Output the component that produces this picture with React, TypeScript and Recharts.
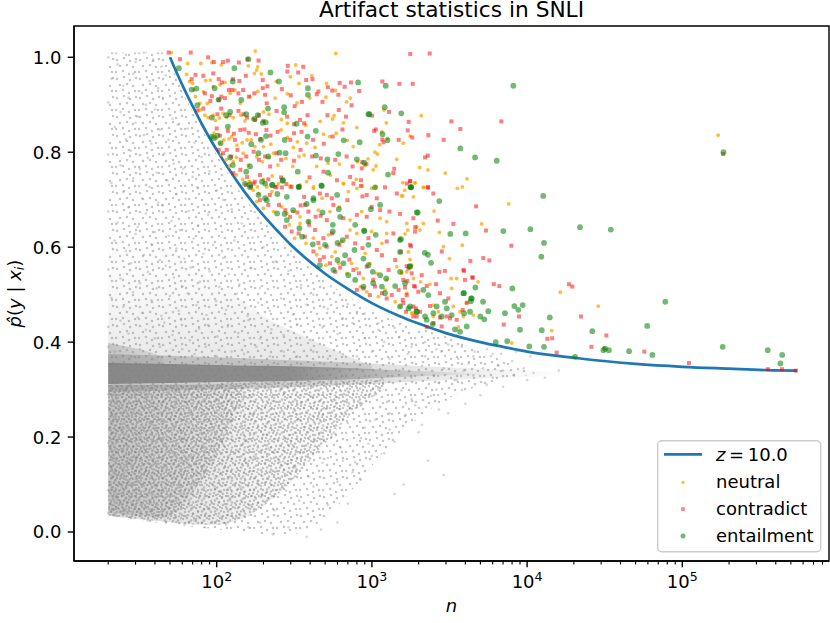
import React from 'react';
import { ComposedChart, XAxis, YAxis, Scatter, Line, Area, ReferenceArea } from 'recharts';

type Pt = [number, number];

const FONT = '"DejaVu Sans", Verdana, sans-serif';
const W = 830;
const H = 623;

const titleText = 'Artifact statistics in SNLI';
const legendLabels = ['neutral', 'contradict', 'entailment'];
const lineLabel = '10.0';

const xMajorTicks = [100, 1000, 10000, 100000];
const xMinorTicks = [
  20, 30, 40, 50, 60, 70, 80, 90,
  200, 300, 400, 500, 600, 700, 800, 900,
  2000, 3000, 4000, 5000, 6000, 7000, 8000, 9000,
  20000, 30000, 40000, 50000, 60000, 70000, 80000, 90000,
  200000, 300000, 400000, 500000, 600000, 700000, 800000,
];
const yTicks = [0, 0.2, 0.4, 0.6, 0.8, 1.0];
const xDomain = [12.04, 881000];
const yDomain = [-0.0611, 1.0659];

// z = 10.0 curve
const curveN = [50, 55, 60, 70, 80, 90, 100, 120, 150, 200, 250, 300, 400, 500, 700, 1000, 1500, 2000, 3000, 5000, 7000, 10000, 20000, 50000, 100000, 200000, 350000, 550000];
const curveP = [1.0, 0.969, 0.942, 0.897, 0.86, 0.83, 0.805, 0.764, 0.718, 0.667, 0.632, 0.605, 0.569, 0.544, 0.512, 0.482, 0.455, 0.439, 0.419, 0.4, 0.39, 0.38, 0.367, 0.354, 0.348, 0.344, 0.341, 0.34];

// envelopes of the grey cloud (n, low, high)
const cloudN = [20, 30, 45, 50, 60, 80, 100, 150, 200, 300, 500, 800, 1200, 2000, 3500, 6000, 10000];
const cloudLo = [0.03, 0.025, 0.018, 0.016, 0.013, 0.009, 0.006, 0.0, -0.004, -0.005, 0.03, 0.1, 0.17, 0.24, 0.29, 0.315, 0.33];
const cloudHi = [1.01, 1.01, 1.01, 0.99, 0.93, 0.85, 0.795, 0.705, 0.655, 0.595, 0.53, 0.485, 0.455, 0.43, 0.405, 0.37, 0.34];

const lowN = [20, 30, 45, 70, 100, 150, 250, 400, 700, 1200];
const lowLo = [0.035, 0.028, 0.022, 0.016, 0.015, 0.03, 0.08, 0.15, 0.24, 0.3];
const lowHi = [0.31, 0.31, 0.31, 0.31, 0.312, 0.314, 0.316, 0.318, 0.32, 0.322];

const denseN = [20, 30, 45, 60, 80, 110, 150];
const denseLo = [0.04, 0.035, 0.03, 0.055, 0.11, 0.19, 0.29];
const denseHi = [0.31, 0.31, 0.31, 0.31, 0.31, 0.31, 0.31];

const aboveN = [20, 30, 50, 80, 130, 200, 350, 600, 1000];
const aboveLo = [0.35, 0.35, 0.35, 0.35, 0.348, 0.346, 0.344, 0.342, 0.34];
const aboveHi = [0.66, 0.64, 0.6, 0.55, 0.5, 0.455, 0.415, 0.38, 0.35];

const colN = [20, 25, 32, 45];
const colLo = [0.352, 0.352, 0.352, 0.352];
const colHi = [0.398, 0.392, 0.385, 0.37];

const outerN = [20, 100, 300, 1000, 3000, 10000, 20000];
const outerLo = [0.295, 0.3, 0.305, 0.312, 0.32, 0.327, 0.333];
const outerHi = [0.375, 0.368, 0.362, 0.355, 0.347, 0.34, 0.335];

const coreN = [20, 50, 100, 200, 300, 500, 800, 1200, 2000, 3000, 5000];
const coreLo = [0.312, 0.314, 0.316, 0.317, 0.318, 0.32, 0.322, 0.325, 0.328, 0.33, 0.332];
const coreHi = [0.356, 0.354, 0.352, 0.35, 0.349, 0.347, 0.345, 0.342, 0.339, 0.337, 0.335];

const grayPts: Pt[] = [
  [20,1.0],[23,0.985],[26,1.005],[30,0.99],[34,1.01],[39,0.995],[44,0.98],
  [21,0.955],[25,0.94],[29,0.965],[33,0.925],[37,0.95],[42,0.935],[47,0.962],
  [20,0.905],[24,0.885],[27,0.915],[31,0.875],[35,0.9],[40,0.89],[45,0.912],[52,0.87],
  [22,0.853],[26,0.827],[30,0.862],[34,0.836],[38,0.818],[43,0.848],[49,0.826],[56,0.858],
  [20,0.795],[24,0.772],[28,0.803],[32,0.765],[36,0.788],[41,0.757],[46,0.797],[53,0.776],[61,0.765],
  [21,0.735],[25,0.716],[29,0.745],[33,0.703],[37,0.727],[42,0.694],[48,0.741],[55,0.712],[63,0.702],[70,0.748],[75,0.726],
  [20,0.675],[23,0.652],[27,0.684],[31,0.643],[35,0.671],[40,0.632],[45,0.688],[51,0.655],[58,0.636],[66,0.676],[76,0.646],[88,0.668],
  [22,0.614],[26,0.592],[30,0.628],[34,0.584],[38,0.606],[43,0.573],[49,0.624],[55,0.597],[62,0.576],[71,0.618],[82,0.586],[95,0.605],[110,0.577],[130,0.614],
  [20,0.553],[24,0.534],[28,0.566],[32,0.524],[36,0.548],[41,0.513],[47,0.561],[53,0.536],[60,0.518],[68,0.557],[78,0.527],[90,0.549],[104,0.516],[120,0.543],[140,0.522],[165,0.556],[190,0.514],
  [21,0.493],[25,0.474],[29,0.505],[33,0.462],[38,0.488],[44,0.455],[50,0.497],[57,0.466],[65,0.503],[74,0.478],[86,0.457],[99,0.486],[115,0.468],[135,0.502],[158,0.455],[185,0.483],[220,0.466],[260,0.492],[310,0.458],[380,0.479],
  [20,0.432],[24,0.445],[27,0.418],[31,0.452],[35,0.426],[40,0.408],[46,0.441],[52,0.415],[59,0.447],[67,0.404],[77,0.428],[88,0.436],[101,0.412],[118,0.433],[138,0.419],[160,0.446],[190,0.407],[225,0.427],[270,0.415],[330,0.438],[400,0.405],[480,0.431],[600,0.417],[750,0.44],[900,0.408],[1100,0.426],
  [65,0.85],[72,0.82],[80,0.79],[90,0.76],[100,0.72],[110,0.7],[125,0.68],[145,0.65],[170,0.62],[200,0.6],[240,0.57],[290,0.55],[350,0.52],[420,0.5],[520,0.47],[650,0.45],[800,0.46],
  [20,0.39],[22,0.38],[25,0.39],[28,0.37],[32,0.385],[37,0.375],[43,0.39],[50,0.37],[60,0.385],[72,0.375],[85,0.39],[100,0.37],[125,0.38],[150,0.375],[180,0.39],[220,0.37],[270,0.38],[330,0.37],[420,0.38],[520,0.365],[650,0.375],[800,0.37],[1000,0.38],[1300,0.365],[1700,0.375],[2200,0.37],[2800,0.38],[3600,0.365],[4500,0.37],[6000,0.375],[8000,0.36],[10500,0.37],
  [1500,0.34],[1800,0.325],[2100,0.35],[2500,0.33],[2900,0.345],[3400,0.32],[3900,0.34],[4500,0.33],[5200,0.345],[6000,0.325],[7000,0.34],[8200,0.33],[9500,0.345],[11000,0.335],[13000,0.325],[16000,0.34],[4200,0.355],[2700,0.315],[6500,0.35],[10000,0.32],
  [20,0.29],[23,0.276],[26,0.298],[30,0.268],[35,0.284],[40,0.262],[47,0.281],[55,0.296],[64,0.273],[75,0.288],[88,0.258],[103,0.279],[120,0.297],[140,0.266],[165,0.285],[195,0.257],[230,0.276],[275,0.294],[330,0.268],[400,0.287],[480,0.259],[580,0.277],[700,0.296],[850,0.268],[1000,0.286],[1250,0.274],[1550,0.298],[1900,0.267],[2400,0.287],[3000,0.278],[3800,0.299],[5000,0.288],[7000,0.306],
  [21,0.243],[24,0.218],[28,0.252],[32,0.207],[37,0.232],[43,0.198],[50,0.238],[58,0.214],[67,0.247],[78,0.208],[91,0.228],[106,0.196],[124,0.236],[145,0.217],[170,0.248],[200,0.206],[235,0.226],[280,0.197],[335,0.238],[400,0.216],[480,0.245],[580,0.207],[700,0.229],[850,0.198],[1050,0.237],[1300,0.216],[1650,0.247],[2100,0.226],[2700,0.258],
  [20,0.187],[23,0.168],[26,0.196],[30,0.157],[34,0.176],[39,0.148],[45,0.186],[52,0.166],[60,0.197],[70,0.155],[82,0.177],[95,0.146],[110,0.185],[130,0.165],[155,0.194],[180,0.157],[215,0.176],[255,0.147],[300,0.186],[360,0.167],[430,0.195],[520,0.156],[630,0.178],[780,0.147],[950,0.186],[1200,0.166],
  [21,0.138],[24,0.117],[27,0.146],[31,0.107],[35,0.128],[40,0.097],[46,0.136],[53,0.116],[61,0.147],[71,0.106],[83,0.127],[97,0.096],[113,0.137],[132,0.116],[155,0.146],[185,0.107],[220,0.127],[265,0.096],[320,0.136],[390,0.117],[480,0.146],[600,0.106],[750,0.126],
  [20,0.088],[23,0.068],[26,0.096],[29,0.057],[33,0.077],[38,0.048],[44,0.087],[50,0.066],[58,0.094],[67,0.056],[78,0.076],[90,0.047],[105,0.086],[122,0.067],[142,0.095],[167,0.056],[197,0.077],[235,0.046],[280,0.087],[340,0.066],[420,0.096],[520,0.057],
  [20,0.04],[22,0.035],[25,0.045],[28,0.03],[32,0.04],[36,0.025],[41,0.035],[47,0.02],[54,0.03],[62,0.015],[72,0.025],[84,0.01],[98,0.02],[115,0.015],[135,0.03],[160,0.01],[190,0.02],[230,-0.005],[290,0.01],[380,-0.01],[470,0.005],[600,0.02],
  [350,0.27],[450,0.24],[550,0.2],[650,0.15],[720,0.26],[900,0.22],[1000,0.16],[1100,0.3],[1300,0.25],[1400,0.19],[1600,0.1],[1800,0.28],[2000,0.21],[2300,0.15],[2600,0.3],[3100,0.25],[3500,0.32],[4000,0.27],[5500,0.31],[700,0.06],[850,0.11],[1400,0.08],[2900,0.12],
  [1200,0.4],[1500,0.41],[1800,0.39],[2200,0.4],[2600,0.385],[3100,0.395],[3800,0.39],[4600,0.38],[5500,0.385],[6800,0.375],[8500,0.38],[1100,0.44],[1400,0.43],[900,0.46],[700,0.48],
];

const neutralPts: Pt[] = [
  [51,1.01],[65,0.987],[79,0.987],[93,0.989],[107,0.984],[177,1.013],[184,0.98],[323,0.984],[585,1.008],[160,0.982],
  [64,0.964],[67,0.949],[70,0.945],[85,0.951],[91,0.952],[113,0.947],[175,0.966],[181,0.973],[194,0.965],[242,0.949],[339,0.945],[298,0.959],[410,0.961],[510,0.945],
  [71,0.931],[73,0.917],[78,0.903],[82,0.927],[87,0.903],[95,0.938],[105,0.942],[122,0.924],[131,0.931],[142,0.903],[164,0.917],[184,0.928],[238,0.914],[285,0.923],[329,0.904],[398,0.914],[505,0.916],[582,0.93],[687,0.906],[724,0.914],
  [78,0.889],[84,0.878],[88,0.873],[95,0.878],[98,0.867],[104,0.872],[110,0.882],[116,0.873],[128,0.873],[143,0.878],[152,0.866],[171,0.87],[200,0.885],[217,0.88],[261,0.869],[285,0.861],[375,0.857],[464,0.865],[557,0.87],[571,0.877],[656,0.862],[800,0.852],
  [96,0.84],[99,0.829],[105,0.819],[111,0.826],[120,0.828],[125,0.833],[135,0.815],[146,0.82],[157,0.826],[167,0.826],[176,0.812],[200,0.812],[223,0.817],[260,0.847],[286,0.831],[312,0.81],[331,0.822],[380,0.819],[430,0.81],[488,0.838],[534,0.833],[588,0.84],[694,0.825],[758,0.812],
  [107,0.795],[115,0.784],[121,0.771],[128,0.78],[134,0.789],[148,0.798],[160,0.773],[181,0.791],[197,0.78],[217,0.789],[232,0.798],[248,0.773],[279,0.787],[309,0.77],[339,0.791],[366,0.794],[441,0.77],[522,0.777],[618,0.775],[808,0.78],
  [134,0.752],[147,0.743],[164,0.738],[183,0.727],[200,0.742],[228,0.75],[250,0.734],[298,0.729],[380,0.738],[420,0.727],[540,0.752],[656,0.734],[792,0.743],
  [162,0.738],[172,0.72],[186,0.713],[210,0.727],[227,0.717],[297,0.727],[344,0.731],[420,0.724],[477,0.703],[655,0.734],[705,0.717],[800,0.724],[996,0.724],[1555,0.708],[1850,0.706],
  [181,0.696],[200,0.682],[233,0.675],[263,0.685],[283,0.671],[311,0.675],[344,0.664],[390,0.654],[452,0.678],[537,0.675],[618,0.685],[723,0.657],[860,0.675],[1130,0.661],[1245,0.654],[1678,0.65],
  [294,0.647],[318,0.619],[344,0.65],[376,0.608],[420,0.619],[462,0.598],[525,0.626],[580,0.59],[639,0.612],[723,0.636],[800,0.629],[905,0.587],[996,0.633],[1160,0.608],[1245,0.629],[1519,0.619],[1700,0.636],
  [441,0.584],[505,0.562],[552,0.58],[610,0.566],[689,0.545],[740,0.566],[800,0.555],[882,0.534],[970,0.566],[1075,0.545],[1245,0.531],[1447,0.559],[1555,0.545],[1850,0.534],
  [842,0.517],[926,0.506],[1100,0.496],[1215,0.51],[1412,0.485],[1519,0.475],[1678,0.503],[1800,0.461],
  [1895,0.736],[2145,0.726],[2042,0.636],[1635,0.628],[1717,0.59],[1760,0.574],[1805,0.562],[1555,0.548],[1675,0.548],[2145,0.65],[1942,0.643],[2720,0.631],[2060,0.527],[2368,0.522],[2887,0.601],[3155,0.576],[3265,0.513],[3518,0.534],[2488,0.478],[3697,0.464],[3348,0.475],[1849,0.461],[4081,0.482],[3885,0.454],[2488,0.454],[2680,0.464],[3607,0.432],[4506,0.457],
  [1195,0.889],[2081,0.877],[1238,0.862],[1157,0.843],[1264,0.829],[1760,0.834],[1122,0.816],[1594,0.819],[1047,0.8],[1087,0.796],[944,0.786],[1445,0.785],[903,0.772],[1062,0.771],[1020,0.763],[2032,0.768],[2295,0.763],[2970,0.756],[4100,0.744],[1582,0.736],[1895,0.735],[2160,0.726],[3550,0.724],[3830,0.727],[866,0.729],[1055,0.727],
  [1580,0.708],[1627,0.72],[7610,0.691],[2514,0.676],[5095,0.649],[3820,0.604],[3235,0.534],[4830,0.527],[16370,0.505],[28750,0.476],[14400,0.424],[31350,0.388],[7960,0.398],[170000,0.836],
];

const contradictPts: Pt[] = [
  [49,1.01],[68,1.01],[58,0.996],[88,1.0],[96,0.99],[110,0.99],[118,0.993],[139,0.989],[158,0.996],[186,0.993],[287,0.982],[361,0.98],
  [73,0.963],[82,0.961],[69,0.954],[95,0.966],[103,0.954],[108,0.947],[127,0.954],[140,0.95],[154,0.961],[198,0.952],[212,0.939],[285,0.97],[335,0.968],[377,0.952],[414,0.954],[733,0.947],[520,0.937],[620,0.946],[668,0.938],[827,0.929],[205,0.921],
  [84,0.924],[93,0.918],[91,0.908],[103,0.91],[107,0.917],[113,0.914],[120,0.931],[126,0.931],[138,0.924],[148,0.931],[161,0.917],[175,0.924],[198,0.935],[210,0.903],[263,0.933],[300,0.92],[354,0.906],[441,0.922],[480,0.906],[555,0.93],[740,0.899],[608,0.921],[318,0.897],[452,0.928],
  [75,0.888],[82,0.892],[101,0.88],[107,0.892],[121,0.878],[138,0.887],[149,0.88],[157,0.873],[177,0.868],[187,0.878],[200,0.866],[243,0.887],[284,0.875],[315,0.859],[344,0.868],[385,0.878],[517,0.878],[612,0.889],[681,0.875],
  [100,0.85],[105,0.835],[118,0.845],[129,0.839],[131,0.826],[142,0.847],[151,0.848],[161,0.841],[179,0.838],[191,0.828],[209,0.847],[222,0.835],[247,0.843],[298,0.826],[315,0.84],[352,0.843],[366,0.861],[418,0.826],[490,0.818],[559,0.833],[646,0.848],
  [103,0.805],[110,0.798],[116,0.805],[124,0.791],[136,0.805],[143,0.784],[155,0.791],[173,0.801],[187,0.784],[205,0.791],[221,0.77],[243,0.798],[260,0.784],[315,0.782],[347,0.805],[412,0.791],[468,0.787],[580,0.784],[687,0.791],[751,0.77],[860,0.766],
  [128,0.756],[142,0.763],[157,0.748],[173,0.734],[190,0.752],[215,0.743],[238,0.727],[260,0.747],[281,0.733],[396,0.747],[488,0.759],[595,0.741],[724,0.748],[848,0.729],
  [155,0.731],[166,0.727],[176,0.738],[220,0.71],[243,0.727],[263,0.726],[304,0.727],[337,0.727],[366,0.706],[462,0.713],[512,0.71],[552,0.703],[760,0.734],[869,0.707],[926,0.71],[1075,0.703],[1215,0.726],[1447,0.713],[1678,0.734],
  [190,0.699],[215,0.689],[252,0.689],[277,0.678],[297,0.664],[331,0.673],[347,0.688],[370,0.689],[390,0.675],[434,0.664],[467,0.666],[512,0.657],[565,0.689],[655,0.661],[695,0.699],[800,0.668],[926,0.664],[996,0.685],[1130,0.678],[1297,0.675],[1519,0.67],[1850,0.661],
  [276,0.643],[304,0.633],[337,0.629],[370,0.622],[394,0.647],[430,0.636],[452,0.609],[487,0.619],[512,0.601],[552,0.629],[618,0.605],[689,0.622],[780,0.608],[869,0.598],[950,0.619],[1075,0.594],[1245,0.612],[1375,0.629],[1760,0.605],[1900,0.642],
  [420,0.591],[462,0.573],[490,0.579],[537,0.566],[580,0.548],[624,0.557],[716,0.574],[760,0.552],[826,0.545],[926,0.559],[1020,0.531],[1160,0.583],[1280,0.552],[1412,0.573],[1595,0.531],[1720,0.555],[1900,0.517],
  [800,0.51],[882,0.513],[970,0.499],[1048,0.517],[1160,0.503],[1245,0.492],[1343,0.499],[1485,0.51],[1580,0.489],[1660,0.464],[1850,0.475],[1946,0.454],
  [1760,0.739],[2300,0.726],[2488,0.713],[1895,0.633],[1785,0.602],[1530,0.59],[1675,0.56],[1805,0.545],[2095,0.541],[1690,0.529],[1635,0.515],[1865,0.518],[2254,0.518],[2590,0.522],[1990,0.506],[2747,0.503],[3110,0.492],[1675,0.499],[1594,0.482],[1920,0.471],[2368,0.476],[2747,0.452],[3034,0.454],[3186,0.45],[2488,0.44],[2815,0.433],[3980,0.531],[4460,0.536],[4081,0.483],[3845,0.468],[1849,0.454],[2042,0.464],[2254,0.432],[3885,0.552],[3518,0.447],
  [1766,1.007],[2356,1.008],[1167,0.949],[1503,0.944],[1832,0.944],[1289,0.885],[1003,0.877],[1726,0.864],[3250,0.865],[6820,0.865],[1701,0.846],[3712,0.849],[1034,0.845],[1060,0.848],[1167,0.827],[1187,0.821],[1821,0.831],[2309,0.836],[2900,0.826],[1488,0.826],[2200,0.789],[2290,0.793],[866,0.779],[922,0.775],[1393,0.765],[1373,0.756],[850,0.741],[1766,0.739],[2295,0.726],
  [4690,0.686],[2655,0.656],[3350,0.649],[5430,0.635],[7910,0.603],[2818,0.591],[4305,0.571],[5710,0.572],[5220,0.577],[2955,0.55],[2720,0.548],[3920,0.55],[4437,0.536],[6095,0.522],[6620,0.518],[18600,0.522],[19550,0.517],[22250,0.454],[8870,0.454],[7070,0.437],[32400,0.414],[13500,0.407],[14500,0.408],[25950,0.39],[56900,0.38],[110400,0.356],[356000,0.343],[439000,0.343],[538000,0.34],[15500,0.378],[183000,0.796],
];

const entailmentPts: Pt[] = [
  [57,0.977],[130,0.977],[160,0.996],[222,0.968],[252,0.949],[387,0.935],[815,0.947],[950,0.88],[69,0.932],[74,0.934],[97,0.935],[127,0.949],[103,0.911],[75,0.899],[144,0.91],[214,0.892],[272,0.895],[387,0.921],[93,0.873],[122,0.885],[115,0.878],[118,0.854],[155,0.88],[175,0.87],[184,0.878],[198,0.862],[207,0.863],[272,0.884],[327,0.86],[435,0.845],[93,0.833],[96,0.83],[101,0.835],[106,0.819],[167,0.817],[193,0.826],[208,0.834],[274,0.826],[385,0.833],[658,0.825],[834,0.821],[122,0.789],[127,0.773],[164,0.77],[186,0.798],[215,0.791],[254,0.799],[278,0.798],[333,0.759],[436,0.793],[517,0.785],[608,0.796],[800,0.785],[893,0.778],[155,0.759],[164,0.731],[196,0.738],[205,0.734],[229,0.731],[267,0.741],[337,0.727],[475,0.729],[522,0.757],
  [152,0.734],[164,0.726],[186,0.71],[205,0.703],[227,0.731],[246,0.712],[266,0.74],[283,0.706],[339,0.727],[420,0.703],[473,0.73],[597,0.71],[1048,0.726],[1772,0.726],[210,0.699],[245,0.671],[274,0.67],[283,0.657],[311,0.678],[341,0.64],[380,0.691],[390,0.654],[420,0.699],[481,0.673],[560,0.647],[612,0.68],[624,0.664],[780,0.647],[895,0.634],[984,0.68],[1130,0.689],[1946,0.673],[355,0.622],[416,0.606],[499,0.605],[560,0.633],[600,0.609],[650,0.615],[672,0.583],[772,0.594],[890,0.635],[950,0.605],[1058,0.626],[1519,0.59],[1540,0.617],[462,0.562],[565,0.552],[600,0.573],[655,0.566],[705,0.541],[780,0.531],[882,0.576],[950,0.562],[1013,0.548],[1130,0.541],[1235,0.534],[1412,0.518],[1519,0.548],[1635,0.524],[1760,0.559],[882,0.517],[1020,0.524],[1160,0.517],[1215,0.503],[1519,0.475],[1720,0.471],[1946,0.464],
  [1517,0.615],[2145,0.51],[2310,0.499],[1760,0.475],[1942,0.464],[2614,0.475],[2960,0.485],[3034,0.471],[2488,0.461],[2815,0.454],[3265,0.457],[3885,0.503],[3925,0.461],[4400,0.492],[4289,0.464],[3697,0.422],[4081,0.433],[2254,0.447],[2465,0.438],[3430,0.427],[2200,0.454],
  [1227,0.94],[8150,0.94],[1209,0.895],[962,0.88],[1546,0.882],[1171,0.838],[1258,0.825],[3712,0.808],[4620,0.789],[6370,0.782],[1270,0.753],[1786,0.727],
  [1794,0.726],[2718,0.697],[12700,0.708],[1973,0.673],[3200,0.628],[4020,0.629],[7030,0.634],[10500,0.638],[21900,0.642],[34600,0.637],[12850,0.609],[12350,0.58],[2190,0.588],[2297,0.584],[2404,0.567],[1752,0.56],[4640,0.515],[8030,0.513],[3920,0.503],[4350,0.492],[4340,0.486],[5200,0.485],[8270,0.476],[8780,0.468],[9370,0.478],[77700,0.485],[14000,0.452],[5620,0.465],[7200,0.461],[4990,0.454],[5300,0.448],[9000,0.426],[12420,0.425],[26300,0.423],[59400,0.434],[12850,0.39],[10330,0.391],[31800,0.386],[31000,0.383],[33600,0.383],[45400,0.381],[64100,0.373],[182000,0.39],[355000,0.383],[440000,0.373],[428000,0.355],[7450,0.402],[6280,0.4],[20350,0.369],[184000,0.8],
];

const toRows = (pts: Pt[]) => pts.map(([n, p]) => ({ n, p }));
const bandRows = (ns: number[], lo: number[], hi: number[]) => ns.map((n, i) => ({ n, lo: lo[i], hi: hi[i] }));
const rangeKey = (d: any) => [d.lo, d.hi];

const curveRows = curveN.map((n, i) => ({ n, p: curveP[i] }));
const grayRows = toRows(grayPts);
const neutralRows = toRows(neutralPts);
const contradictRows = toRows(contradictPts);
const entailmentRows = toRows(entailmentPts);
const cloudRows = bandRows(cloudN, cloudLo, cloudHi);
const lowRows = bandRows(lowN, lowLo, lowHi);
const denseRows = bandRows(denseN, denseLo, denseHi);
const aboveRows = bandRows(aboveN, aboveLo, aboveHi);

const allXTicks = [...xMinorTicks, ...xMajorTicks].sort((a, b) => a - b);

const XTick = (props: any) => {
  const { x, y, payload } = props;
  const v = payload.value;
  const major = xMajorTicks.includes(v);
  const exp = Math.round(Math.log10(v));
  return (
    <g>
      <line x1={x} x2={x} y1={y} y2={y + (major ? 6.3 : 3.6)} stroke="#000" strokeWidth={major ? 1.4 : 1.1} />
      {major && (
        <text x={x} y={y + 26.5} textAnchor="middle" fontSize={18} fontFamily={FONT} fill="#000">
          <tspan>10</tspan>
          <tspan dy={-7} fontSize={12.6}>{exp}</tspan>
        </text>
      )}
    </g>
  );
};

const YTick = (props: any) => {
  const { x, y, payload } = props;
  return (
    <g>
      <line x1={x - 6.3} x2={x} y1={y} y2={y} stroke="#000" strokeWidth={1.4} />
      <text x={x - 12.6} y={y + 6.5} textAnchor="end" fontSize={18} fontFamily={FONT} fill="#000">
        {Number(payload.value).toFixed(1)}
      </text>
    </g>
  );
};

const GrayDot = (p: any) => <circle cx={p.cx} cy={p.cy} r={1.3} fill="#808080" fillOpacity={0.33} />;
const NeutralDot = (p: any) => <circle cx={p.cx} cy={p.cy} r={1.9} fill="#ffa500" fillOpacity={0.75} />;
const ContradictDot = (p: any) => <rect x={p.cx - 2} y={p.cy - 2} width={4} height={4} fill="#ff0000" fillOpacity={0.5} />;
const EntailDot = (p: any) => <circle cx={p.cx} cy={p.cy} r={2.9} fill="#008000" fillOpacity={0.55} />;

const Grad = ({ id, stops, vertical }: { id: string; stops: [number, number][]; vertical?: boolean }) => (
  <linearGradient id={id} x1="0" y1="0" x2={vertical ? '0' : '1'} y2={vertical ? '1' : '0'}>
    {stops.map(([o, a], i) => (
      <stop key={i} offset={o} stopColor="#808080" stopOpacity={a} />
    ))}
  </linearGradient>
);

const Speckle = ({ id, w, h, dots, op }: { id: string; w: number; h: number; dots: [number, number][]; op: number }) => (
  <pattern id={id} width={w} height={h} patternUnits="userSpaceOnUse">
    {dots.map(([cx, cy], i) => (
      <circle key={i} cx={cx} cy={cy} r={1.25} fill="#808080" fillOpacity={op} />
    ))}
  </pattern>
);

const areaProps = { type: 'monotone' as const, stroke: 'none', fillOpacity: 1, isAnimationActive: false, dataKey: rangeKey };

export default function App() {
  const legendX = 657.7;
  const legendY = 440.7;
  return (
    <div style={{ position: 'absolute', left: 0, top: 0, width: W, height: H, background: '#fff' }}>
      <ComposedChart width={W} height={H} margin={{ top: 26, right: 1, bottom: 0, left: 0 }}>
        <defs>
          <Speckle id="pA" w={23} h={19} op={0.45} dots={[[2, 3], [9, 1], [15, 4], [21, 2], [5, 9], [12, 8], [18, 10], [1, 15], [8, 14], [14, 17], [20, 15]]} />
          <Speckle id="pB" w={13} h={11} op={0.45} dots={[[1, 2], [5, 1], [9, 3.5], [12, 1], [3, 6], [7, 5.5], [11, 7.5], [2, 10], [6, 9], [10, 10.5]]} />
          <Speckle id="pC" w={10} h={9} op={0.4} dots={[[2, 1], [6, 2.5], [9, 5], [4, 5.5], [1, 7.5], [7, 8]]} />
          <Grad id="gLow" stops={[[0, 0.3], [0.3, 0.2], [0.55, 0.08], [1, 0]]} />
          <Grad id="gDense" stops={[[0, 0.24], [0.5, 0.12], [1, 0]]} />
          <Grad id="gAbove" vertical stops={[[0, 0], [0.5, 0.06], [1, 0.2]]} />
          <Grad id="gCol" stops={[[0, 0.38], [1, 0.15]]} />
          <Grad id="gOuter" stops={[[0, 0.4], [0.39, 0.35], [0.665, 0.2], [0.87, 0.07], [1, 0]]} />
          <Grad id="gCore" stops={[[0, 0.9], [0.49, 0.84], [0.71, 0.45], [0.83, 0.25], [1, 0.05]]} />
        </defs>
        <XAxis
          dataKey="n"
          type="number"
          scale="log"
          domain={xDomain}
          allowDataOverflow
          ticks={allXTicks}
          interval={0}
          tick={(p: any) => <XTick {...p} />}
          tickLine={false}
          tickSize={0}
          tickMargin={0}
          axisLine={{ stroke: '#000', strokeWidth: 1.4 }}
          height={62}
        />
        <YAxis
          dataKey="p"
          type="number"
          domain={yDomain}
          allowDataOverflow
          ticks={yTicks}
          interval={0}
          tick={(p: any) => <YTick {...p} />}
          tickLine={false}
          tickSize={0}
          tickMargin={0}
          width={74}
          axisLine={{ stroke: '#000', strokeWidth: 1.4 }}
        />

        <Area {...areaProps} data={cloudRows} fill="url(#pA)" />
        <Area {...areaProps} data={lowRows} fill="url(#gLow)" />
        <Area {...areaProps} data={lowRows} fill="url(#pB)" />
        <Area {...areaProps} data={denseRows} fill="url(#gDense)" />
        <Area {...areaProps} data={denseRows} fill="url(#pC)" />
        <Area {...areaProps} data={aboveRows} fill="url(#gAbove)" />
        <Area {...areaProps} data={bandRows(colN, colLo, colHi)} fill="url(#gCol)" />
        <Area {...areaProps} data={bandRows(outerN, outerLo, outerHi)} fill="url(#gOuter)" />
        <Area {...areaProps} data={bandRows(coreN, coreLo, coreHi)} fill="url(#gCore)" />

        <Scatter data={grayRows} dataKey="p" shape={GrayDot} isAnimationActive={false} />
        <Line data={curveRows} dataKey="p" type="monotone" stroke="#1f77b4" strokeWidth={2.7} dot={false} activeDot={false} isAnimationActive={false} />
        <Scatter data={neutralRows} dataKey="p" shape={NeutralDot} isAnimationActive={false} />
        <Scatter data={contradictRows} dataKey="p" shape={ContradictDot} isAnimationActive={false} />
        <Scatter data={entailmentRows} dataKey="p" shape={EntailDot} isAnimationActive={false} />

        <ReferenceArea x1={xDomain[0]} x2={xDomain[1]} y1={yDomain[0]} y2={yDomain[1]} ifOverflow="visible" fill="none" fillOpacity={0} stroke="#000" strokeWidth={1.4} />
      </ComposedChart>

      <svg width={W} height={H} style={{ position: 'absolute', left: 0, top: 0, pointerEvents: 'none' }} fontFamily={FONT}>
        <text x={451.5} y={16.5} textAnchor="middle" fontSize={21.7} fill="#000">{titleText}</text>
        <text x={451.5} y={612} textAnchor="middle" fontSize={18} fontStyle="italic" fill="#000">n</text>
        <text transform="rotate(-90 21 293.5)" x={21} y={293.5} textAnchor="middle" fontSize={18} fill="#000">
          <tspan fontStyle="italic">{'p\u0302'}</tspan>
          <tspan>(</tspan>
          <tspan fontStyle="italic">y</tspan>
          <tspan>{' | '}</tspan>
          <tspan fontStyle="italic">x</tspan>
          <tspan fontStyle="italic" fontSize={12.6} dy={3}>i</tspan>
          <tspan dy={-3}>)</tspan>
        </text>
        <g>
          <rect x={legendX} y={legendY} width={163} height={111} rx={4} ry={4} fill="#fff" fillOpacity={0.8} stroke="#cccccc" strokeWidth={1.4} />
          <line x1={664} x2={702} y1={454.3} y2={454.3} stroke="#1f77b4" strokeWidth={2.7} />
          <text x={716} y={461.2} fontSize={18} fill="#000">
            <tspan fontStyle="italic">z</tspan>
            <tspan>{'\u2009=\u2009' + lineLabel}</tspan>
          </text>
          <circle cx={683} cy={482.3} r={1.6} fill="#ffa500" fillOpacity={0.75} />
          <text x={716} y={488.3} fontSize={18} fill="#000">{legendLabels[0]}</text>
          <rect x={681.2} y={507.3} width={3.6} height={3.6} fill="#ff0000" fillOpacity={0.5} />
          <text x={716} y={515} fontSize={18} fill="#000">{legendLabels[1]}</text>
          <circle cx={683} cy={536} r={2.5} fill="#008000" fillOpacity={0.55} />
          <text x={716} y={541.7} fontSize={18} fill="#000">{legendLabels[2]}</text>
        </g>
      </svg>
    </div>
  );
}
